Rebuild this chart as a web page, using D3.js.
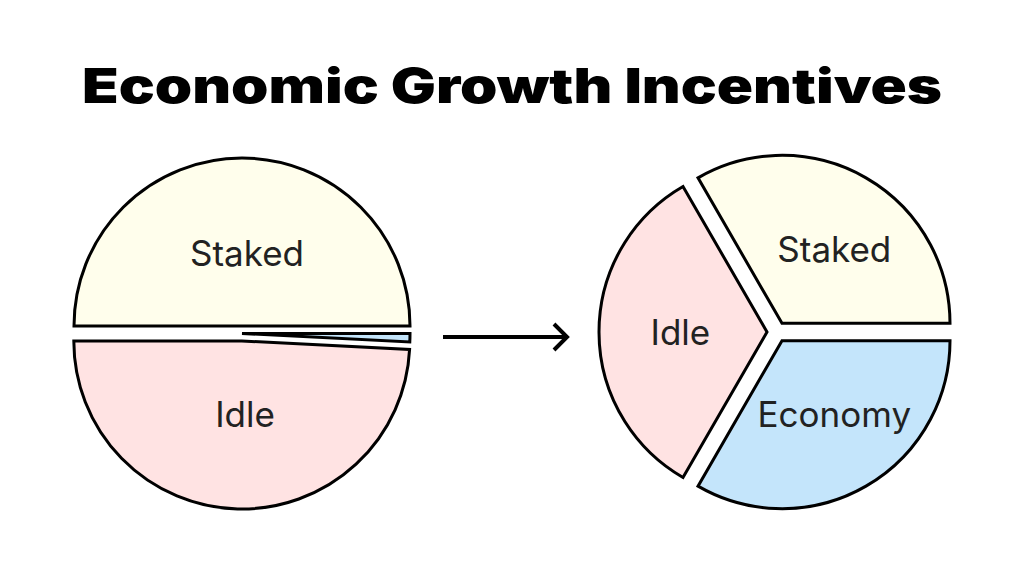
<!DOCTYPE html>
<html>
<head>
<meta charset="utf-8">
<script src="https://cdn.jsdelivr.net/npm/d3@7/dist/d3.min.js"></script>
<style>
  html, body { margin: 0; padding: 0; background: #ffffff; }
  svg { display: block; }
</style>
</head>
<body>
<svg id="chart" width="1024" height="576"></svg>
<script>
// ---- data ----
const title = "Economic Growth Incentives";
const categories = ["Staked", "Economy", "Idle"];
const beforeValues = [50, 0.8, 49.2];
const afterValues = [33.3, 33.3, 33.3];

// ---- styles / layout ----
const colors = { Staked: "#FFFEEC", Economy: "#C4E5FB", Idle: "#FFE3E3" };
const W = 1024, H = 576;
const R = 168;
const pies = [
  { values: beforeValues, cx: 242, cy: 333.5, start: -Math.PI / 2, explode: [7.5, 0, 7.5], minLabel: 5, labelDx: 5, labelKy: 1.02 },
  { values: afterValues,  cx: 777, cy: 332,   start: -Math.PI / 6, explode: [10, 10, 10], minLabel: 5, labelDx: 6, labelKy: 0.92 }
];

const svg = d3.select("#chart");

svg.append("text")
  .attr("x", W / 2)
  .attr("y", 103)
  .attr("text-anchor", "middle")
  .attr("font-family", "Inter, 'DejaVu Sans', sans-serif")
  .attr("font-weight", 900)
  .attr("font-size", 48)
  .attr("textLength", 860)
  .attr("lengthAdjust", "spacingAndGlyphs")
  .attr("fill", "#000")
  .text(title);

const arc = d3.arc().innerRadius(0).outerRadius(R);

pies.forEach(p => {
  const data = categories.map((c, i) => ({ cat: c, value: p.values[i], explode: p.explode[i] }));
  const pie = d3.pie().sort(null).value(d => d.value)
    .startAngle(p.start).endAngle(p.start + 2 * Math.PI);
  const arcs = pie(data);
  const g = svg.append("g").attr("transform", `translate(${p.cx},${p.cy})`);

  const slice = g.selectAll("g.slice").data(arcs).join("g")
    .attr("class", "slice")
    .attr("transform", d => {
      const mid = (d.startAngle + d.endAngle) / 2;
      return `translate(${Math.sin(mid) * d.data.explode},${-Math.cos(mid) * d.data.explode})`;
    });

  slice.append("path")
    .attr("d", arc)
    .attr("fill", d => colors[d.data.cat])
    .attr("stroke", "#000")
    .attr("stroke-width", 3)
    .attr("stroke-linejoin", "miter");

  slice.filter(d => d.data.value >= p.minLabel)
    .append("text")
    .attr("transform", d => {
      const mid = (d.startAngle + d.endAngle) / 2;
      const a = (d.endAngle - d.startAngle) / 2;
      const dist = (2 / 3) * R * Math.sin(a) / a;
      return `translate(${Math.sin(mid) * dist + p.labelDx},${-Math.cos(mid) * dist * p.labelKy})`;
    })
    .attr("text-anchor", "middle")
    .attr("dy", "0.36em")
    .attr("font-family", "Inter, 'Open Sans', sans-serif")
    .attr("font-size", 35)
    .attr("fill", "#222")
    .text(d => d.data.cat);
});

// arrow
const arrow = svg.append("g")
  .attr("stroke", "#000")
  .attr("stroke-width", 4)
  .attr("fill", "none");
arrow.append("line").attr("x1", 443).attr("y1", 337).attr("x2", 566).attr("y2", 337);
arrow.append("polyline")
  .attr("points", "554,324 567,337 554,350")
  .attr("stroke-linejoin", "miter");
</script>
</body>
</html>
